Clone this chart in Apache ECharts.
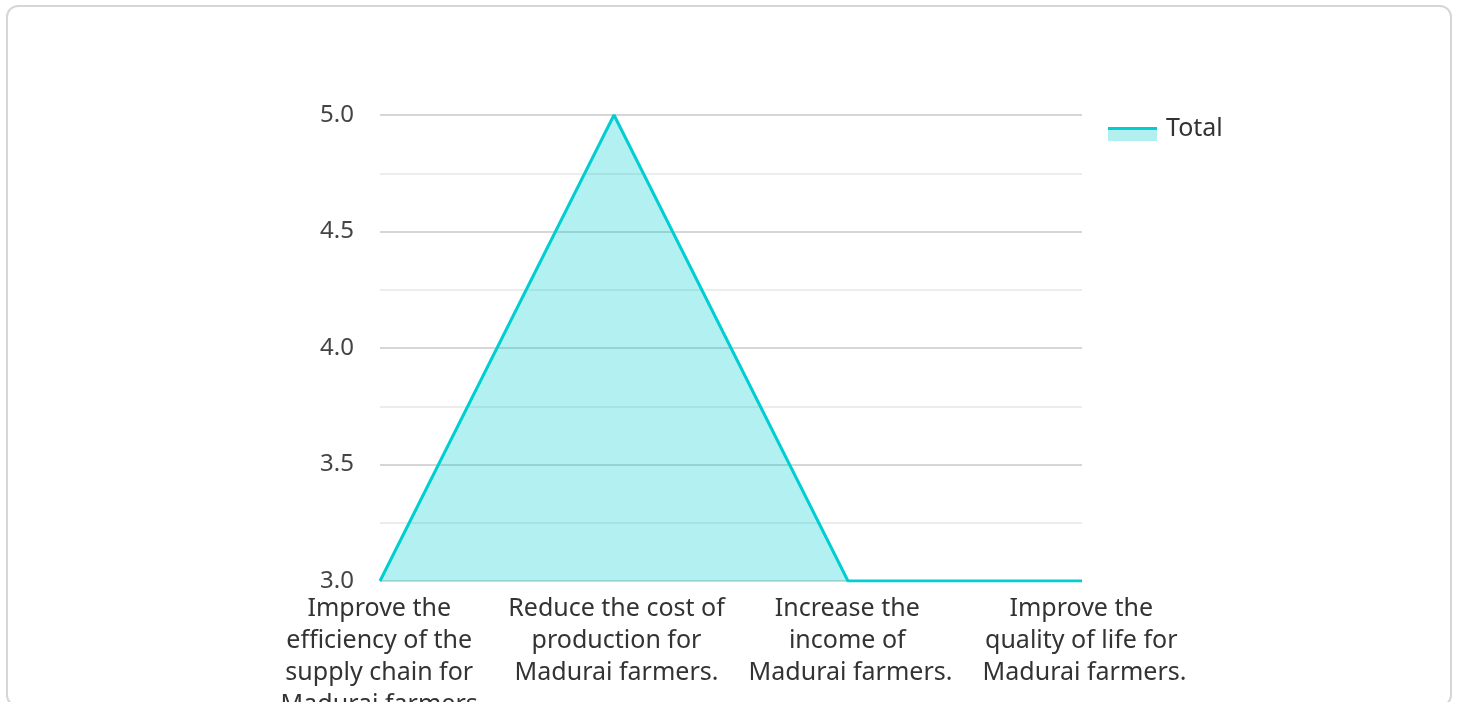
<!DOCTYPE html>
<html>
<head>
<meta charset="utf-8">
<script src="https://cdn.jsdelivr.net/npm/echarts@6/dist/echarts.min.js"></script>
<style>
html,body{margin:0;padding:0;width:1458px;height:702px;overflow:hidden;background:#fff;}
#card{position:absolute;left:6px;top:5px;width:1442px;height:698px;border:2px solid #d6d6d6;border-radius:12px;background:#fff;}
#chart{position:absolute;left:0;top:0;width:1458px;height:702px;}
</style>
</head>
<body>
<div id="card"></div>
<div id="chart"></div>
<script>
const categories = [
  "Improve the efficiency of the supply chain for Madurai farmers.",
  "Reduce the cost of production for Madurai farmers.",
  "Increase the income of Madurai farmers.",
  "Improve the quality of life for Madurai farmers."
];
const seriesName = "Total";
const totalValues = [3, 5, 3, 3];
const yMin = 3.0, yMax = 5.0, yStep = 0.5;

const FONT = 'Noto Sans';
const chart = echarts.init(document.getElementById('chart'), null, {renderer: 'canvas'});
chart.setOption({
  backgroundColor: 'transparent',
  animation: false,
  textStyle: {fontFamily: FONT},
  grid: {left: 380, right: 1458 - 1082, top: 115, bottom: 702 - 581, containLabel: false, outerBoundsMode: 'none'},
  legend: {
    left: 1103, top: 111, itemWidth: 49, itemHeight: 25, itemGap: 10,
    icon: 'rect',
    itemStyle: {
      color: new echarts.graphic.LinearGradient(0, 0, 0, 1, [
        {offset: 0, color: 'rgba(255,255,255,0)'}, {offset: 0.44, color: 'rgba(255,255,255,0)'},
        {offset: 0.44, color: '#00ced1'}, {offset: 0.56, color: '#00ced1'},
        {offset: 0.56, color: '#b2efef'}, {offset: 1, color: '#b2efef'}
      ]),
      borderWidth: 0
    },
    lineStyle: {width: 0, opacity: 0},
    textStyle: {fontSize: 25, color: '#333', fontFamily: FONT, padding: [0, 0, 0, 4]},
    data: [seriesName]
  },
  xAxis: {
    type: 'category', data: categories, boundaryGap: false,
    axisLine: {show: false}, axisTick: {show: false},
    axisLabel: {
      interval: 0, fontSize: 25, color: '#333', lineHeight: 32, margin: 12,
      width: 218, overflow: 'break', fontFamily: FONT, padding: [0, 0, 0, 5]
    },
    splitLine: {show: false}
  },
  yAxis: {
    type: 'value', min: yMin, max: yMax, interval: yStep,
    axisLine: {show: false}, axisTick: {show: false},
    axisLabel: {fontSize: 24, color: '#444', margin: 26, formatter: v => v.toFixed(1), fontFamily: FONT},
    splitLine: {show: true, lineStyle: {color: '#c8c8c8', width: 1.5}},
    minorTick: {show: false, splitNumber: 2},
    minorSplitLine: {show: true, lineStyle: {color: '#e6e6e6', width: 1.5}}
  },
  series: [{
    name: seriesName, type: 'line', data: totalValues,
    symbol: 'none', smooth: false,
    lineStyle: {color: '#00ced1', width: 3},
    itemStyle: {color: '#00ced1'},
    areaStyle: {color: '#00ced1', opacity: 0.3}
  }]
});
</script>
</body>
</html>
